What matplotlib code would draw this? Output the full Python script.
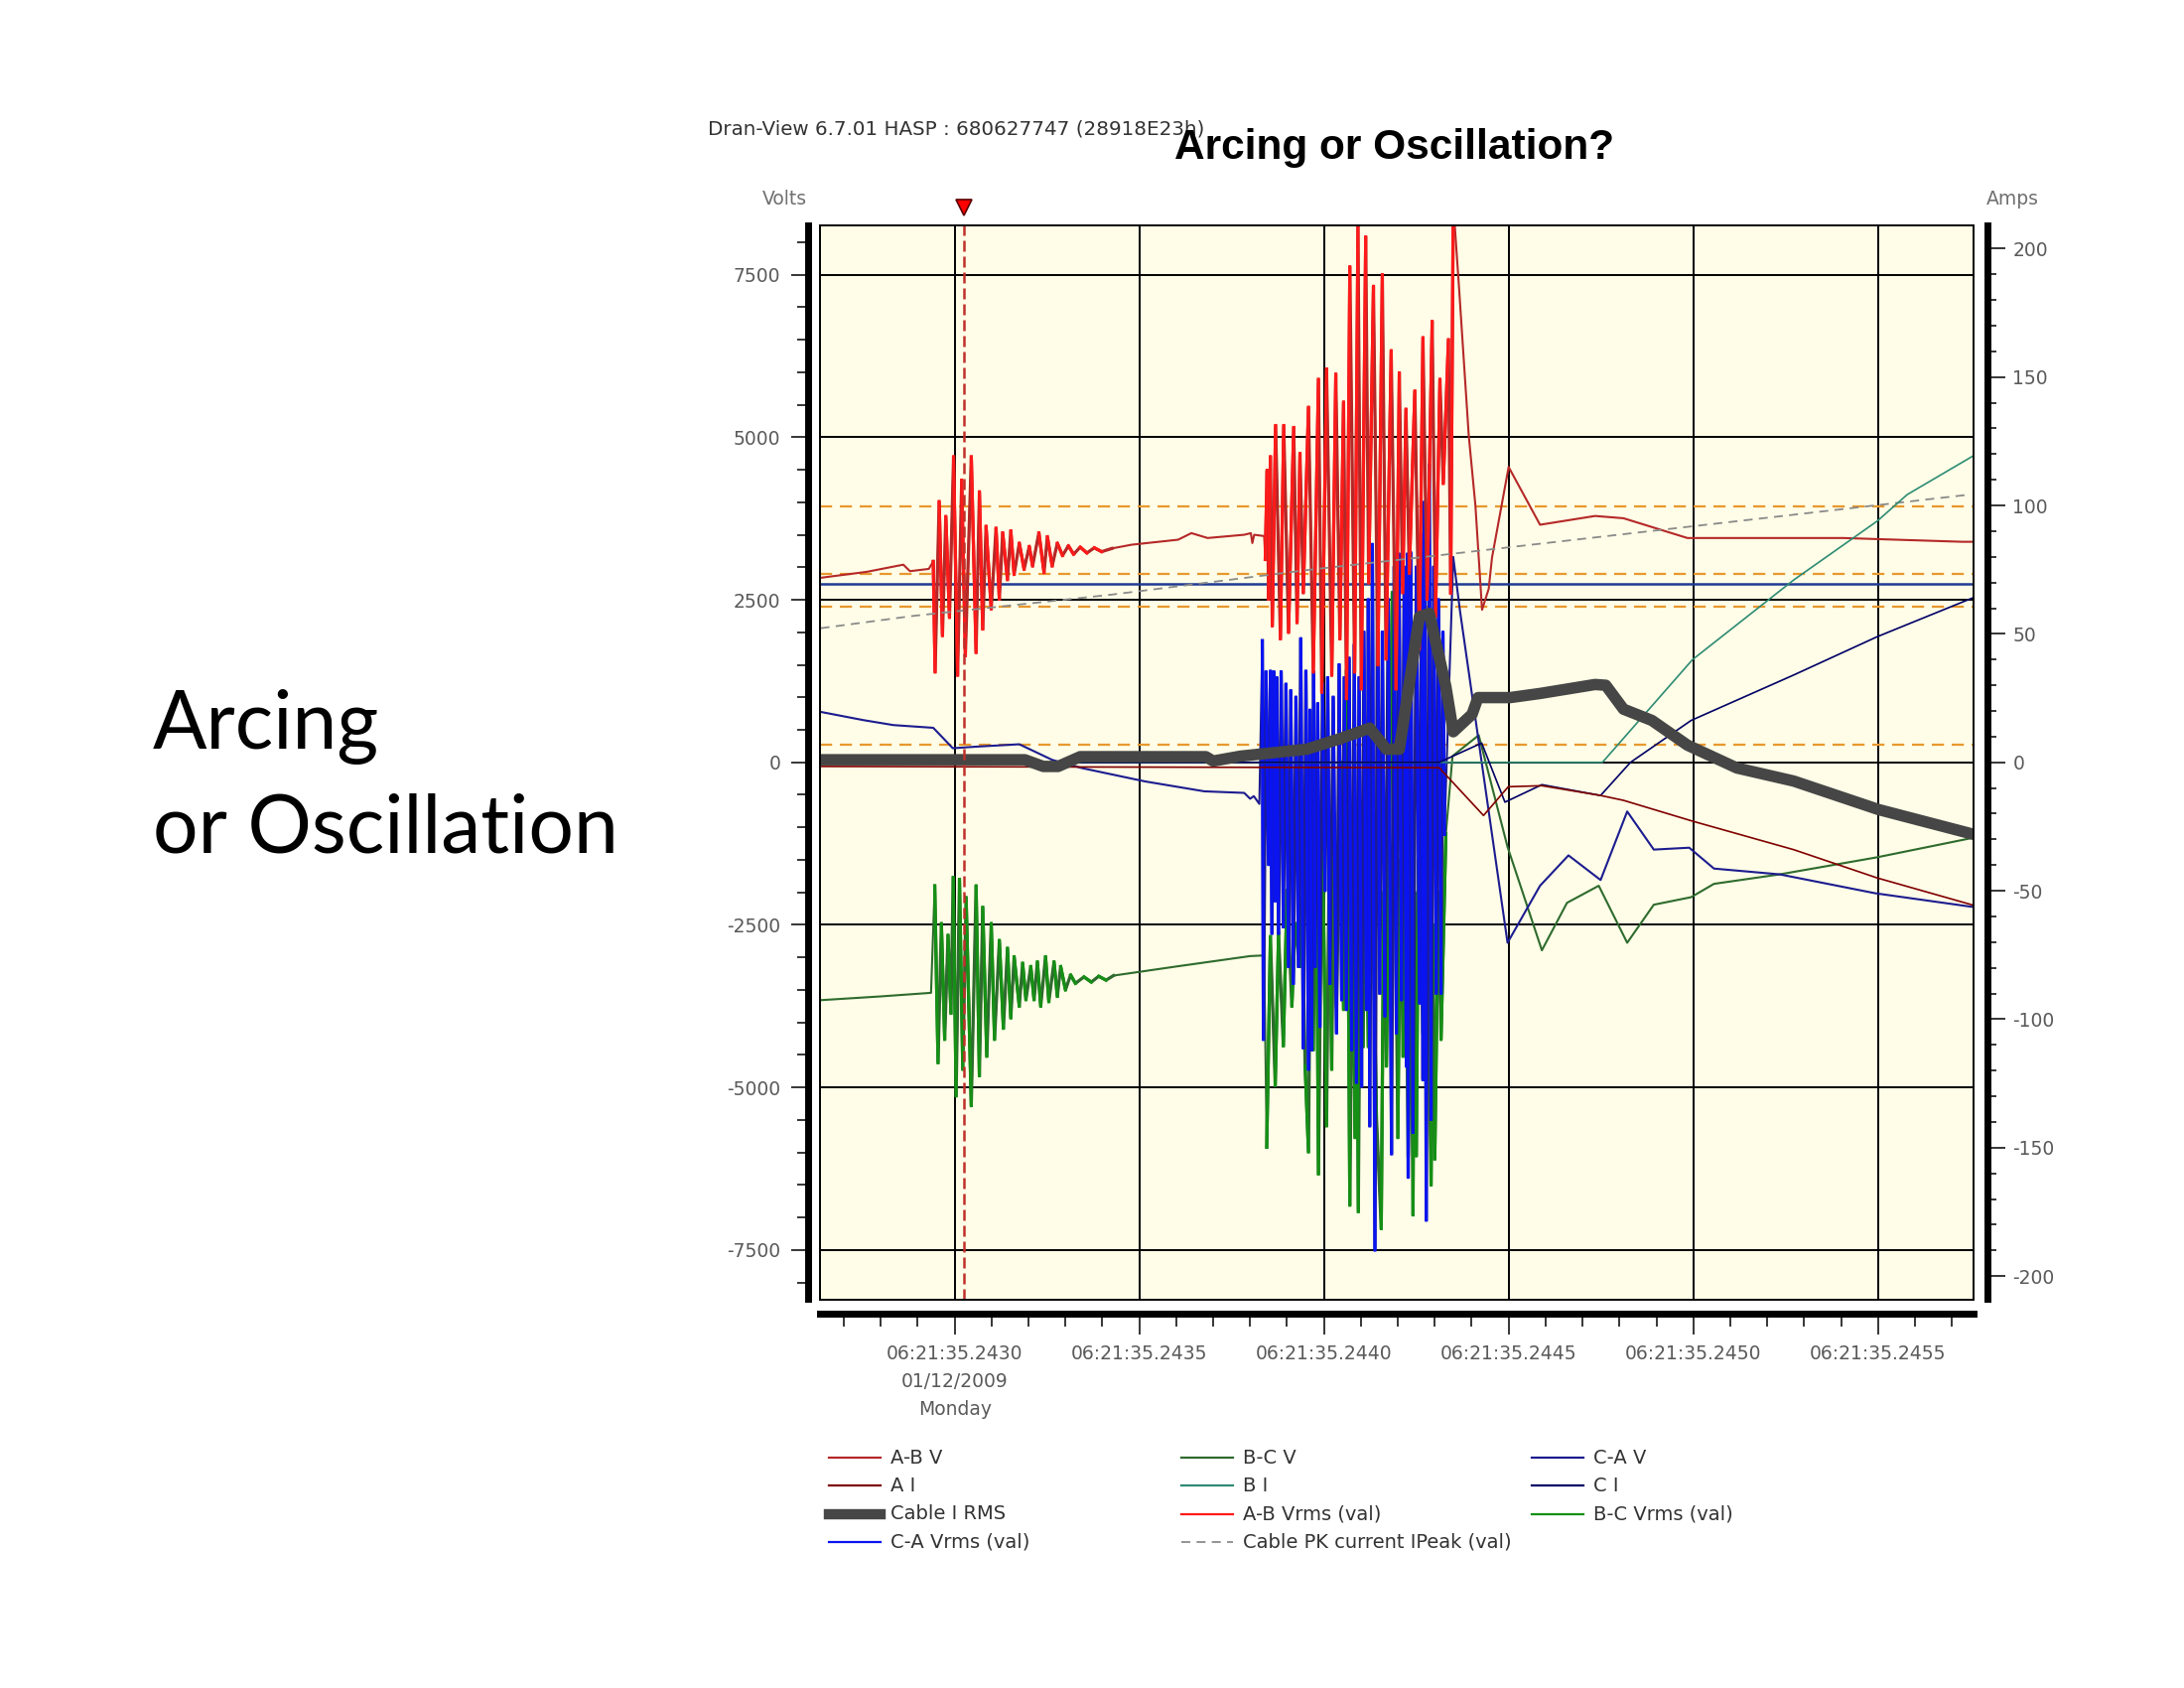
import numpy as np
import matplotlib.pyplot as plt
from matplotlib.lines import Line2D
from matplotlib.patches import Rectangle
from matplotlib.ticker import MultipleLocator

W, H = 2200, 1700

# time axis: units of 0.1 ms after 06:21:35  (2430 -> 06:21:35.2430)
t_lim = (2426.34, 2457.58)
volt_lim = (-8258, 8258)
amp_lim = (-209, 209)

x_ticks = [2430, 2435, 2440, 2445, 2450, 2455]
x_labels = ['06:21:35.2430\n01/12/2009\nMonday', '06:21:35.2435', '06:21:35.2440',
            '06:21:35.2445', '06:21:35.2450', '06:21:35.2455']
volt_ticks = [7500, 5000, 2500, 0, -2500, -5000, -7500]
volt_labels = ['7500', '5000', '2500', '0', '-2500', '-5000', '-7500']
amp_ticks = [200, 150, 100, 50, 0, -50, -100, -150, -200]
amp_labels = ['200', '150', '100', '50', '0', '-50', '-100', '-150', '-200']

# ---------------- A-B V ----------------
ab_pre_t = [2426.37, 2427.62, 2428.61, 2428.79, 2429.30]
ab_pre_v = [2838, 2930, 3040, 2940, 2975]
ab_b1_t = [2429.42, 2429.47, 2429.58, 2429.67, 2429.76, 2429.86, 2429.97, 2430.08, 2430.19,
           2430.29, 2430.45, 2430.58, 2430.67, 2430.76, 2430.85, 2430.99, 2431.12, 2431.21,
           2431.30, 2431.43, 2431.52, 2431.61, 2431.75, 2431.88, 2432.02, 2432.11, 2432.28,
           2432.42, 2432.51, 2432.64, 2432.78, 2432.92, 2433.08, 2433.22, 2433.40, 2433.58,
           2433.78, 2433.98, 2434.26]
ab_b1_v = [3090, 1390, 4010, 1950, 3780, 2230, 4700, 1340, 4340,
           1640, 4700, 1690, 4160, 2050, 3630, 2360, 3600, 2510,
           3530, 2810, 3560, 2890, 3370, 2970, 3320, 3020, 3530,
           2920, 3470, 3020, 3370, 3180, 3330, 3200, 3310, 3220,
           3300, 3240, 3290]
ab_mid_t = [2434.79, 2436.05, 2436.41, 2436.85, 2437.84, 2438.02, 2438.06, 2438.11, 2438.38]
ab_mid_v = [3347, 3424, 3525, 3450, 3500, 3525, 3372, 3500, 3480]
ab_b2_t = [2438.41, 2438.46, 2438.50, 2438.55, 2438.60, 2438.69, 2438.82, 2438.91, 2439.04,
           2439.18, 2439.27, 2439.35, 2439.44, 2439.58, 2439.71, 2439.85, 2439.94, 2440.07,
           2440.21, 2440.32, 2440.43, 2440.53, 2440.61, 2440.70, 2440.83, 2440.92, 2441.01,
           2441.13, 2441.21, 2441.34, 2441.46, 2441.58, 2441.68, 2441.82, 2441.95, 2442.04,
           2442.13, 2442.22, 2442.31, 2442.46, 2442.58, 2442.68, 2442.79, 2442.93, 2443.02,
           2443.14, 2443.23, 2443.37, 2443.43, 2443.50]
ab_b2_v = [3120, 4490, 2510, 4700, 2100, 5180, 1900, 5180, 2000,
           5150, 2150, 4750, 2610, 5460, 1390, 5890, 1080, 6050,
           1340, 5970, 1900, 5540, 980, 7620, 1390, 8240, 1130,
           8080, 2760, 7320, 1500, 7500, 1590, 6330, 1130, 5990,
           2610, 5430, 2910, 5710, 1740, 6530, 2510, 6780, 2250,
           5890, 4290, 6500, 2600, 8600]
ab_post_t = [2443.66, 2443.92, 2444.10, 2444.28, 2444.46, 2444.55, 2445.00, 2445.85, 2447.34,
             2448.11, 2449.84, 2451.00, 2454.06, 2457.28, 2457.58]
ab_post_v = [7274, 5025, 3952, 2346, 2668, 3149, 4542, 3654, 3789,
             3754, 3450, 3450, 3450, 3392, 3392]

# ---------------- B-C V ----------------
bc_pre_t = [2426.37, 2428.00, 2429.36]
bc_pre_v = [-3658, -3600, -3545]
bc_b1_t = [2429.46, 2429.55, 2429.64, 2429.73, 2429.82, 2429.90, 2429.96, 2430.04, 2430.13,
           2430.22, 2430.31, 2430.45, 2430.58, 2430.67, 2430.76, 2430.87, 2430.99, 2431.08,
           2431.21, 2431.32, 2431.43, 2431.52, 2431.61, 2431.75, 2431.84, 2431.93, 2432.06,
           2432.15, 2432.24, 2432.33, 2432.46, 2432.55, 2432.69, 2432.78, 2432.87, 2433.00,
           2433.14, 2433.27, 2433.50, 2433.70, 2433.90, 2434.10, 2434.30]
bc_b1_v = [-1900, -4620, -2480, -4260, -2660, -3860, -1770, -5130, -1800,
           -4720, -2080, -5280, -1900, -4820, -2230, -4520, -2480, -4260,
           -2740, -4090, -2860, -3930, -2990, -3750, -3090, -3650, -3140,
           -3650, -3070, -3750, -2990, -3680, -3070, -3600, -3140, -3500,
           -3270, -3400, -3300, -3380, -3290, -3350, -3280]
bc_mid_t = [2436.00, 2438.00, 2438.38]
bc_mid_v = [-3140, -2980, -2970]
bc_b2_t = [2438.45, 2438.55, 2438.68, 2438.77, 2438.90, 2439.00, 2439.13, 2439.22, 2439.35,
           2439.40, 2439.49, 2439.58, 2439.65, 2439.71, 2439.79, 2439.85, 2439.95, 2440.07,
           2440.14, 2440.21, 2440.28, 2440.34, 2440.45, 2440.53, 2440.61, 2440.70, 2440.78,
           2440.84, 2440.88, 2440.93, 2441.00, 2441.06, 2441.12, 2441.20, 2441.30, 2441.42,
           2441.55, 2441.62, 2441.69, 2441.85, 2442.00, 2442.07, 2442.14, 2442.20, 2442.28,
           2442.35, 2442.41, 2442.45, 2442.50, 2442.56, 2442.68, 2442.75, 2442.90, 2442.95,
           2443.00, 2443.10, 2443.17, 2443.30]
bc_b2_v = [-5920, -2680, -4970, -2630, -4360, -1970, -3750, -2480, -3140,
           -2100, -4670, -5990, -1500, -4420, -1000, -6330, -800, -5590,
           -1500, -4720, -800, -3750, 0, -3800, 1410, -6810, -2000,
           -5770, -1500, -6910, -1000, -4370, -500, -4370, -1500, -5430,
           -7170, -2000, -4670, 2610, -5770, -1500, -4520, -1800, -6050,
           -2500, -6960, -2000, -6050, -1500, -4160, -1000, -6500, -2500,
           -6100, -2000, -4260, -1100]
bc_post_t = [2443.48, 2444.19, 2444.97, 2445.90, 2446.58, 2447.44, 2448.21, 2448.93, 2449.94,
             2450.56, 2452.34, 2454.98, 2457.58]
bc_post_v = [96, 417, -1300, -2891, -2161, -1898, -2775, -2190, -2074,
             -1869, -1723, -1460, -1160]

# ---------------- C-A V ----------------
ca_pre_t = [2426.37, 2427.53, 2428.34, 2429.42, 2429.95, 2430.58, 2431.75, 2432.64, 2433.45,
            2435.15, 2436.76, 2437.84, 2438.00, 2438.10, 2438.25]
ca_pre_v = [776, 649, 573, 531, 217, 241, 278, 38, -89,
            -293, -446, -470, -560, -520, -640]
ca_b2_t = [2438.33, 2438.36, 2438.43, 2438.50, 2438.55, 2438.59, 2438.64, 2438.68, 2438.72,
           2438.77, 2438.84, 2438.90, 2438.97, 2439.04, 2439.10, 2439.17, 2439.24, 2439.31,
           2439.37, 2439.44, 2439.51, 2439.58, 2439.62, 2439.67, 2439.72, 2439.76, 2439.83,
           2439.89, 2439.96, 2440.03, 2440.10, 2440.16, 2440.25, 2440.34, 2440.41, 2440.48,
           2440.55, 2440.61, 2440.68, 2440.75, 2440.82, 2440.88, 2440.95, 2441.02, 2441.08,
           2441.15, 2441.20, 2441.24, 2441.31, 2441.38, 2441.45, 2441.51, 2441.58, 2441.65,
           2441.74, 2441.83, 2441.90, 2441.96, 2442.03, 2442.10, 2442.17, 2442.23, 2442.26,
           2442.28, 2442.35, 2442.41, 2442.50, 2442.59, 2442.64, 2442.68, 2442.72, 2442.77,
           2442.85, 2442.90, 2442.97, 2443.04, 2443.10, 2443.17, 2443.22, 2443.26]
ca_b2_v = [1870, -4260, 1390, -1570, 1400, -2630, 1390, -2130, 1300,
           -2630, 1390, -2530, 1200, -3140, 1100, -3400, 1000, -3140,
           1900, -4390, 1400, -4720, 800, -4420, 1390, -3140, 900,
           -4060, 1200, -1970, 1300, -3400, 1000, -4160, 1500, -3650,
           1300, -3800, 1600, -4420, 1800, -4920, 1300, -4980, 2000,
           -3800, 2500, -5590, 3350, -7500, 3350, -3550, 2000, -3900,
           2500, -6020, 3000, -4160, 3200, -3650, 3000, -4670, 3200,
           -6380, 3220, -5690, 3000, -3700, 3500, -4880, 4000, -7040,
           4570, -5490, 3000, -3550, 2500, -3550, 2000, -1110]
ca_post_t = [2443.50, 2443.68, 2444.97, 2445.85, 2446.62, 2447.49, 2448.21, 2448.93, 2449.89,
             2450.56, 2452.34, 2454.93, 2457.58]
ca_post_v = [3160, 2340, -2775, -1898, -1431, -1810, -756, -1342, -1313,
             -1634, -1723, -2014, -2225]

# ---------------- currents (Amps) ----------------
a_i_t = [2426.34, 2443.12, 2444.32, 2444.99, 2445.90, 2447.49, 2448.11, 2449.98, 2452.72,
         2454.98, 2457.58]
a_i_v = [-1.6, -2.1, -20.7, -9.5, -9.1, -12.9, -14.8, -22.9, -34.0, -45.0, -55.6]
b_i_t = [2426.34, 2447.54, 2449.98, 2452.72, 2454.98, 2455.79, 2457.58]
b_i_v = [0.0, 0.0, 40.0, 71.0, 93.9, 104.2, 119.3]
c_i_t = [2426.34, 2443.12, 2444.27, 2444.90, 2445.90, 2447.49, 2448.30, 2449.94, 2452.72,
         2454.98, 2457.58]
c_i_v = [0.0, 0.0, 7.5, -15.5, -8.7, -12.9, 0.0, 16.3, 34.0, 48.9, 64.1]
rms_t = [2426.34, 2431.90, 2432.40, 2432.80, 2433.40, 2436.80, 2437.00, 2437.74, 2439.53,
         2440.43, 2441.24, 2441.69, 2442.04, 2442.58, 2442.85, 2443.30, 2443.50, 2444.01,
         2444.17, 2445.04, 2445.85, 2447.34, 2447.63, 2448.11, 2448.88, 2449.84, 2451.18,
         2452.72, 2455.02, 2457.58]
rms_v = [1.0, 1.0, -1.6, -1.6, 2.2, 2.2, 0.5, 2.4, 5.1,
         9.2, 13.3, 5.1, 5.1, 56.6, 58.0, 29.5, 11.9, 18.7,
         25.2, 25.2, 26.8, 30.3, 30.0, 20.7, 16.3, 6.7, -2.2,
         -7.3, -18.4, -28.0]
pk_t = [2426.37, 2428.88, 2434.26, 2439.63, 2443.12, 2457.47]
pk_v = [52.2, 57.0, 65.3, 75.0, 80.6, 104.2]

limit_levels = [3943, 2899, 2395, 278]   # orange dashed levels (V)
nominal_level = 2740                     # flat blue line (V)
cursor_t = 2430.25

legend_rows = [['A-B V', 'B-C V', 'C-A V'],
               ['A I', 'B I', 'C I'],
               ['Cable I RMS', 'A-B Vrms (val)', 'B-C Vrms (val)'],
               ['C-A Vrms (val)', 'Cable PK current IPeak (val)', None]]

colors = {'A-B V': '#B52828', 'B-C V': '#2E6B2E', 'C-A V': '#1C1C90',
          'A I': '#800000', 'B I': '#2E8B74', 'C I': '#000066',
          'Cable I RMS': '#464646', 'A-B Vrms (val)': '#FF1A1A',
          'B-C Vrms (val)': '#159015', 'C-A Vrms (val)': '#0A14F0',
          'Cable PK current IPeak (val)': '#8A8A8A'}


def join(*parts):
    return np.concatenate([np.asarray(p, float) for p in parts])


def every_other_stroke(t, v):
    xs, ys = [], []
    for i in range(0, len(t) - 1, 2):
        xs += [t[i], t[i + 1], np.nan]
        ys += [v[i], v[i + 1], np.nan]
    return xs, ys


def fx(x):
    return x / W


def fy(y):
    return 1 - y / H


fig = plt.figure(figsize=(W / 100, H / 100), dpi=100)
fig.patch.set_facecolor('white')
plt.rcParams['font.family'] = ['DejaVu Sans']

left, right, top, bottom = 825.5, 1987.7, 227, 1308.5
ax1 = fig.add_axes([fx(left), fy(bottom), (right - left) / W, (bottom - top) / H])
ax2 = ax1.twinx()
ax1.set_facecolor('#FFFDE7')

ax1.set_xlim(*t_lim)
ax1.set_ylim(*volt_lim)
ax2.set_ylim(*amp_lim)

ax1.set_axisbelow(True)
ax1.grid(True, which='major', color='black', lw=1.4)

# reference levels
for lvl in limit_levels:
    ax1.axhline(lvl, color='#E8982E', lw=1.6, dashes=(5.5, 3.5), zorder=1.5)
ax1.axhline(nominal_level, color='#1F3A93', lw=1.8, zorder=1.6)

# voltage waveforms: dark trace + bright "val" strokes
phases = [
    ('B-C V', 'B-C Vrms (val)', join(bc_pre_t, bc_b1_t, bc_mid_t, bc_b2_t, bc_post_t),
     join(bc_pre_v, bc_b1_v, bc_mid_v, bc_b2_v, bc_post_v), [(bc_b1_t, bc_b1_v), (bc_b2_t, bc_b2_v)]),
    ('C-A V', 'C-A Vrms (val)', join(ca_pre_t, ca_b2_t, ca_post_t),
     join(ca_pre_v, ca_b2_v, ca_post_v), [(ca_b2_t, ca_b2_v)]),
    ('A-B V', 'A-B Vrms (val)', join(ab_pre_t, ab_b1_t, ab_mid_t, ab_b2_t, ab_post_t),
     join(ab_pre_v, ab_b1_v, ab_mid_v, ab_b2_v, ab_post_v), [(ab_b1_t, ab_b1_v), (ab_b2_t, ab_b2_v)]),
]
z = 3
for name, val_name, t, v, bursts in phases:
    ax1.plot(t, v, color=colors[name], lw=1.5, zorder=z)
    for bt, bv in bursts:
        ax1.plot(bt, bv, color=colors[name], lw=2.3, zorder=z + 0.2)
        sx, sy = every_other_stroke(bt, bv)
        ax1.plot(sx, sy, color=colors[val_name], lw=2.3, zorder=z + 0.5)
    z += 1

# currents
ax2.plot(pk_t, pk_v, color=colors['Cable PK current IPeak (val)'], lw=1.3, dashes=(5, 3.5), zorder=3)
ax2.plot(b_i_t, b_i_v, color=colors['B I'], lw=1.2, zorder=3)
ax2.plot(c_i_t, c_i_v, color=colors['C I'], lw=1.2, zorder=3)
ax2.plot(a_i_t, a_i_v, color=colors['A I'], lw=1.2, zorder=3)
ax2.plot(rms_t, rms_v, color=colors['Cable I RMS'], lw=8.3, solid_joinstyle='round', zorder=5)

# cursor
ax2.axvline(cursor_t, color='#C0302A', lw=1.8, dashes=(4.4, 2), zorder=6)
ax2.plot([cursor_t], [1.0166], transform=ax2.get_xaxis_transform(), marker='v', ms=11,
         color='#FF0000', mec='#5A0000', mew=1.2, clip_on=False, zorder=7)

# frame
ax2.add_patch(Rectangle((0, 0), 1, 1, transform=ax2.transAxes, fill=False, ec='black',
                        lw=1.4, zorder=20, clip_on=False))

# spines
for s in ['top', 'right']:
    ax1.spines[s].set_visible(False)
for s in ['top', 'left', 'bottom']:
    ax2.spines[s].set_visible(False)
ax1.spines['left'].set_position(('outward', 8.6))
ax1.spines['bottom'].set_position(('outward', 10.1))
ax2.spines['right'].set_position(('outward', 10.1))
for sp in [ax1.spines['left'], ax1.spines['bottom'], ax2.spines['right']]:
    sp.set_linewidth(5)

# ticks
ax1.set_xticks(x_ticks, labels=x_labels)
ax1.xaxis.set_minor_locator(MultipleLocator(1))
ax1.set_yticks(volt_ticks, labels=volt_labels)
ax1.yaxis.set_minor_locator(MultipleLocator(500))
ax2.set_yticks(amp_ticks, labels=amp_labels)
ax2.yaxis.set_minor_locator(MultipleLocator(10))

lab_col = '#5A5A5A'
ax1.tick_params(axis='y', which='major', length=11.9, width=1.1, pad=7.6, labelsize=13.5,
                labelcolor=lab_col)
ax1.tick_params(axis='y', which='minor', length=7.6, width=1.1)
ax1.tick_params(axis='x', which='major', length=14.8, width=1.1, pad=8, labelsize=13.5,
                labelcolor=lab_col)
ax1.tick_params(axis='x', which='minor', length=9.7, width=1.1)
ax2.tick_params(axis='y', which='major', length=12.6, width=1.1, pad=5.8, labelsize=13.5,
                labelcolor=lab_col)
ax2.tick_params(axis='y', which='minor', length=6.8, width=1.1)
for lbl in ax1.get_xticklabels():
    lbl.set_linespacing(1.6)

# header texts
fig.text(fx(713), fy(136), 'Dran-View 6.7.01 HASP : 680627747 (28918E23h)', fontsize=14.3,
         color='#333333', va='baseline', ha='left')
fig.text(fx(1405), fy(160), 'Arcing or Oscillation?', fontsize=30.5, fontweight='bold',
         family='Liberation Sans', color='black', ha='center', va='baseline')
fig.text(fx(790), fy(206), 'Volts', fontsize=13.5, color='#707070', ha='center', va='baseline')
fig.text(fx(2027), fy(206), 'Amps', fontsize=13.5, color='#707070', ha='center', va='baseline')

# slide text
fig.text(fx(154), fy(754), 'Arcing', fontsize=58, family='Lato', color='black', va='baseline')
fig.text(fx(154), fy(859), 'or Oscillation', fontsize=58, family='Lato', color='black',
         va='baseline')

# legend (fixed grid like the original)
col_x = [835, 1190, 1543]
row_y = [1468, 1496, 1525, 1553]
for r, row in enumerate(legend_rows):
    for c, name in enumerate(row):
        if name is None:
            continue
        x0 = col_x[c]
        y = fy(row_y[r])
        kw = dict(color=colors[name], lw=1.6)
        if name == 'Cable I RMS':
            kw['lw'] = 7.5
        if name.startswith('Cable PK'):
            kw['dashes'] = (5, 3.5)
            kw['lw'] = 1.3
        fig.add_artist(Line2D([fx(x0), fx(x0 + 52)], [y, y], transform=fig.transFigure, **kw))
        fig.text(fx(x0 + 62), y, name, fontsize=14, color='#333333', va='center', ha='left')

fig.savefig('out.png', dpi=100)
